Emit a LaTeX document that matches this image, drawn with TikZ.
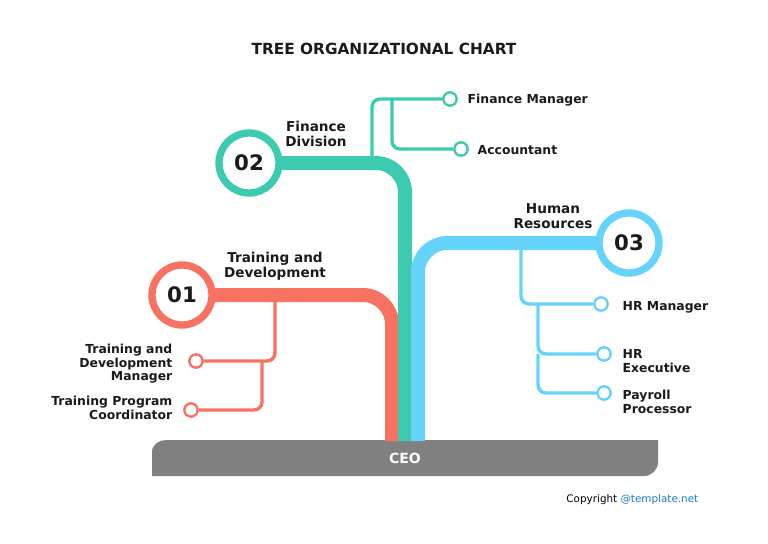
\documentclass[tikz,border=0pt]{standalone}
\usepackage{fontspec}
\setmainfont{DejaVu Sans}
\definecolor{cred}{HTML}{F87262}
\definecolor{cteal}{HTML}{3CCBAF}
\definecolor{cblue}{HTML}{66D4FA}
\definecolor{cgray}{HTML}{808080}
\definecolor{ctxt}{HTML}{1A1A1A}
\definecolor{clink}{HTML}{1F7BC4}
\begin{document}
\begin{tikzpicture}[x=0.75pt,y=-0.75pt,
  trunk/.style={line width=10.5pt,rounded corners=22pt},
  sub/.style={line width=2.6pt,rounded corners=6pt},
  bigc/.style={circle,draw=#1,line width=5.5pt,fill=white,minimum size=45pt,inner sep=0pt,font=\bfseries\fontsize{16}{16}\selectfont,text=ctxt},
  smallc/.style={circle,draw=#1,line width=1.8pt,fill=white,minimum size=10pt,inner sep=0pt},
  lbl/.style={font=\bfseries\fontsize{9.3}{10.2}\selectfont,text=ctxt,align=#1},
  lbl/.default=center,
  glbl/.style={font=\bfseries\fontsize{10.2}{11.5}\selectfont,text=ctxt,align=center}]
\useasboundingbox (0,0) rectangle (768,543);
\node[font=\bfseries\fontsize{11.5}{13}\selectfont,text=ctxt] (title) at (384,49) {TREE ORGANIZATIONAL CHART};
% CEO bar
\fill[cgray] (152,476) -- (152,452) to[out=90,in=180] (166,440) -- (658,440) -- (658,462) to[out=-90,in=0] (644,476) -- cycle;
\node[font=\bfseries\fontsize{10.5}{12}\selectfont,text=white] (ceo) at (405,458) {CEO};
\coordinate (r0) at (392,441);
\coordinate (t0) at (405,441);
\coordinate (b0) at (418,441);
\coordinate (c1p) at (182,295);
\coordinate (c2p) at (249,163);
\coordinate (c3p) at (629,243);
% trunks
\draw[trunk,cred] (r0) |- (c1p);
\draw[trunk,cteal] (t0) |- (c2p);
\draw[trunk,cblue] (b0) |- (c3p);
% big circles
\node[bigc=cred] (c1) at (c1p) {01};
\node[bigc=cteal] (c2) at (c2p) {02};
\node[bigc=cblue] (c3) at (c3p) {03};
% small circles
\node[smallc=cred] (s11) at (196,361) {};
\node[smallc=cred] (s12) at (191,410) {};
\node[smallc=cteal] (s21) at (450,99) {};
\node[smallc=cteal] (s22) at (461,149) {};
\node[smallc=cblue] (s31) at (601,304) {};
\node[smallc=cblue] (s32) at (604,354) {};
\node[smallc=cblue] (s33) at (604,393) {};
% sub connectors
\draw[sub,cred] (275,298) |- (s11.east);
\draw[sub,cred] (262,361) |- (s12.east);
\draw[sub,cteal] (372,160) |- (s21.west);
\draw[sub,cteal] (392,99) |- (s22.west);
\draw[sub,cblue] (521,246) |- (s31.west);
\draw[sub,cblue] (538,304) |- (s32.west);
\draw[sub,cblue] (538,354) |- (s33.west);
% labels
\node[glbl] (l1) at (275,266) {Training and\\Development};
\node[glbl] (l2) at (316,134) {Finance\\Division};
\node[glbl] (l3) at (553,216) {Human\\Resources};
\node[lbl=right,anchor=east] (l11) at (177,364) {Training and\\Development\\Manager};
\node[lbl=right,anchor=east] (l12) at (177,408) {Training Program\\Coordinator};
\node[lbl=left,anchor=west] (l21) at (463,100) {Finance Manager};
\node[lbl=left,anchor=west] (l22) at (473,150) {Accountant};
\node[lbl=left,anchor=west] (l31) at (618,307) {HR Manager};
\node[lbl=left,anchor=west] (l32) at (618,361) {HR\\Executive};
\node[lbl=left,anchor=west] (l33) at (618,402) {Payroll\\Processor};
\node[font=\fontsize{7.8}{9}\selectfont,anchor=east] (copy) at (703,500) {Copyright \textcolor{clink}{@template.net}};
\end{tikzpicture}
\end{document}
